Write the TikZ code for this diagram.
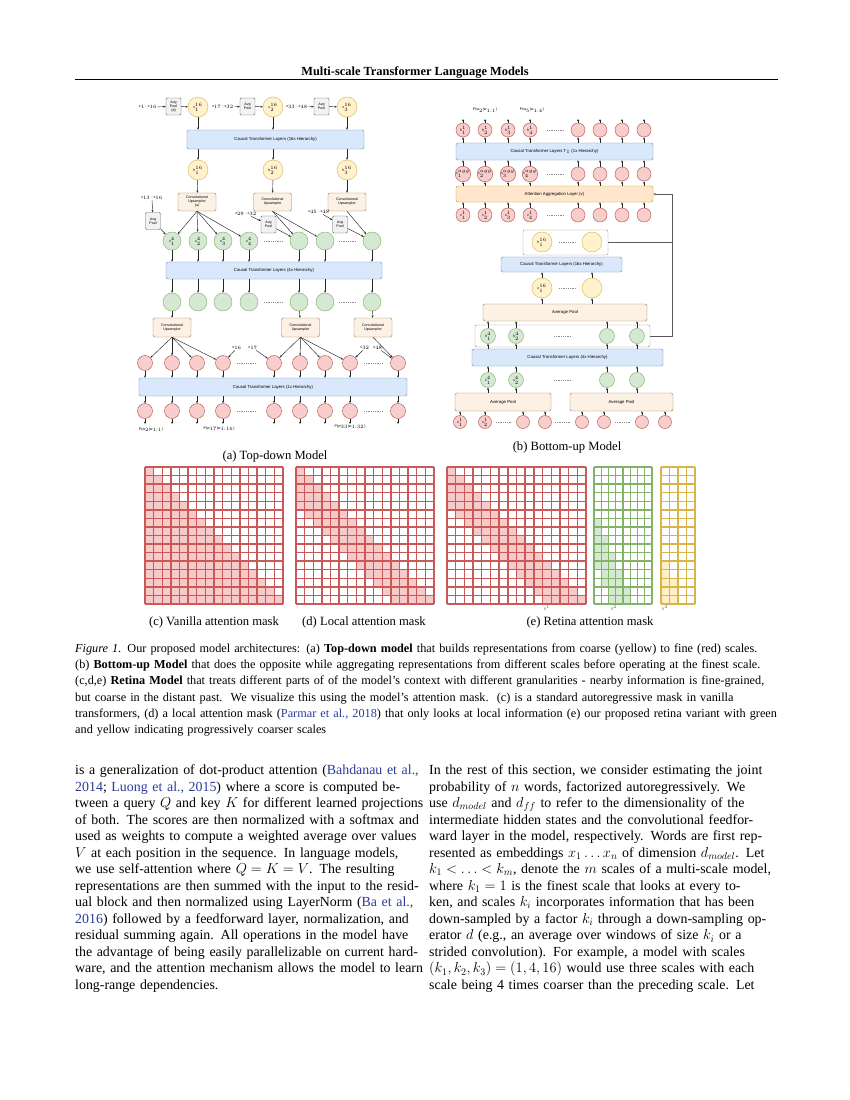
\documentclass[tikz,border=0pt]{standalone}
\usepackage{fontspec}
\setmainfont{Liberation Serif}
\setsansfont{Liberation Sans}
\usetikzlibrary{arrows.meta,calc}
\definecolor{citeblue}{HTML}{2A3C9A}
\definecolor{rstroke}{HTML}{B85450}
\definecolor{rfill}{HTML}{F8CECC}
\definecolor{gstroke}{HTML}{82B366}
\definecolor{gfill}{HTML}{D5E8D4}
\definecolor{ystroke}{HTML}{D6B656}
\definecolor{yfill}{HTML}{FFF2CC}
\definecolor{bstroke}{HTML}{6C8EBF}
\definecolor{bfill}{HTML}{DAE8FC}
\definecolor{ostroke}{HTML}{D79B00}
\definecolor{ofill}{HTML}{FFE6CC}
\definecolor{cstroke}{HTML}{9C7A5C}
\definecolor{cfill}{HTML}{FDF1E5}
\definecolor{mred}{HTML}{C95A5A}
\definecolor{mredf}{HTML}{F7C9C9}
\definecolor{mgreen}{HTML}{82B366}
\definecolor{mgreenf}{HTML}{D5E8D4}
\definecolor{myel}{HTML}{D9B44A}
\definecolor{myelf}{HTML}{FFF0C4}
\newcommand\cit[1]{\textcolor{citeblue}{#1}}
\newcommand\jl[1]{\hbox to\hsize{#1}}
\newcommand\lastl[1]{\hbox to\hsize{#1\hfil}}
\newcommand\rigidmath{\thickmuskip=5mu\medmuskip=4mu\thinmuskip=3mu}
\newcommand\bodyf{\fontsize{13.9}{16.54}\selectfont\rigidmath}
\newcommand\capf{\fontsize{12.25}{16.2}\selectfont}
\newcommand\subf{\fontsize{12.6}{15}\selectfont}
\newcommand\boxf{\sffamily\fontsize{4.3}{5}\selectfont}
\newcommand\labf{\sffamily\fontsize{3.6}{4}\selectfont}
\newcommand\labs{\sffamily\fontsize{3}{3.5}\selectfont}
\newcommand\gridlines[7]{%
  \foreach \k in {0,...,#3}{\draw[#7] (#1+\k*#5,#2) -- ++(0,#4*#6);}
  \foreach \k in {0,...,#4}{\draw[#7] (#1,#2+\k*#6) -- ++(#3*#5,0);}
}
\tikzset{
  arr/.style={-{Stealth[length=2.4pt,width=2pt]}, line width=0.45pt, draw=black!85},
  ln/.style={line width=0.5pt, draw=black!65},
  rc/.style={circle, draw=rstroke, fill=rfill, line width=0.45pt, minimum size=15pt, inner sep=0pt, font=\labf},
  gc/.style={circle, draw=gstroke, fill=gfill, line width=0.45pt, minimum size=18pt, inner sep=0pt, font=\labf},
  yc/.style={circle, draw=ystroke, fill=yfill, line width=0.45pt, minimum size=20pt, inner sep=0pt, font=\labf},
  bbox/.style={rectangle, rounded corners=1.5pt, draw=bstroke, fill=bfill, line width=0.45pt, inner sep=0pt, font=\boxf},
  obox/.style={rectangle, rounded corners=1.5pt, draw=ostroke, fill=ofill, line width=0.45pt, inner sep=0pt, font=\boxf},
  cbox/.style={rectangle, rounded corners=1.5pt, draw=cstroke, fill=cfill, line width=0.45pt, inner sep=0pt, align=center, font=\labf, minimum width=38pt, minimum height=18pt},
  pbox/.style={rectangle, rounded corners=1.2pt, draw=black!60, fill=black!5, line width=0.45pt, inner sep=0pt, align=center, font=\labf, minimum width=15pt, minimum height=17pt},
  dbox/.style={rectangle, rounded corners=2pt, draw=black!60, dash pattern=on 1.2pt off 0.8pt, line width=0.45pt, inner sep=0pt},
  inlab/.style={inner sep=0.5pt, font=\labf},
  dl/.style={draw=black!45, line width=0.4pt, dash pattern=on 1pt off 0.8pt},
  rg/.style={draw=mred, line width=1.4pt},
  gg/.style={draw=mgreen, line width=1.4pt},
  ygs/.style={draw=myel, line width=1.4pt},
  txt/.style={inner sep=0pt, anchor=base},
}
\begin{document}
\begin{tikzpicture}[x=1pt,y=-1pt]
\useasboundingbox (0,0) rectangle (850,1100);
\fill[white] (0,0) rectangle (850,1100);

% ---------- header ----------
\node[txt, font=\fontsize{12.4}{15}\selectfont\bfseries] (hdr) at (415,75) {Multi-scale Transformer Language Models};
\draw[line width=1pt] (75,79.5) -- (778,79.5);

% ========== (a) Top-down model ==========
\node[inlab] (t1) at (148,107) {x$_1$ - x$_{16}$};
\node[pbox] (p1) at (173.5,106.5) {Avg\\Pool\\(d)};
\node[yc] (y1) at (198,107) {x$_1^{16}$};
\node[inlab] (t2) at (223,107) {x$_{17}$ - x$_{32}$};
\node[pbox] (p2) at (247.5,106.5) {Avg\\Pool};
\node[yc] (y2) at (273,107) {x$_2^{16}$};
\node[inlab] (t3) at (297,107) {x$_{33}$ - x$_{48}$};
\node[pbox] (p3) at (321.5,106.5) {Avg\\Pool};
\node[yc] (y3) at (347,107) {x$_3^{16}$};
\foreach \n in {1,2,3}{\draw[arr] (t\n) -- (p\n); \draw[arr] (p\n) -- (y\n);}

\node[bbox, minimum width=177pt, minimum height=19pt] (T16) at (275.5,139.5) {Causal Transformer Layers (16x Hierarchy)};
\foreach \n in {1,2,3}{\draw[arr] (y\n) -- (y\n |- T16.north);}

\foreach \n/\x in {1/198,2/273,3/347}{\node[yc] (h\n) at (\x,170) {h$_\n^{16}$};}
\foreach \n in {1,2,3}{\draw[arr] (h\n |- T16.south) -- (h\n);}

\node[cbox] (c1) at (197,202) {Convolutional\\Upsampler\\(u)};
\node[cbox] (c2) at (272.5,202) {Convolutional\\Upsampler};
\node[cbox] (c3) at (347,202) {Convolutional\\Upsampler};
\foreach \n in {1,2,3}{\draw[arr] (h\n) -- (c\n);}

\node[inlab] (ta) at (152,198) {x$_{13}$ - x$_{16}$};
\node[pbox] (pa) at (153,221) {Avg\\Pool};
\draw[arr] (ta) -- (pa);
\node[inlab] (tb) at (246,214) {x$_{29}$ - x$_{32}$};
\node[pbox] (pb) at (268.5,224.5) {Avg\\Pool};
\draw[arr] (tb) -- (pb);
\node[inlab] (tc) at (319,212) {x$_{45}$ - x$_{48}$};
\node[pbox] (pc) at (340,224.5) {Avg\\Pool};
\draw[arr] (tc) -- (pc);

\foreach \n/\x/\t in {1/172/x$_1^4$,2/198/x$_2^4$,3/223/x$_3^4$,4/249/x$_4^4$,5/299/{},6/325/{},7/372/{}}{\node[gc] (g\n) at (\x,241) {\t};}
\draw[dl] (264,241) -- (283,241);
\draw[dl] (339,241) -- (357,241);
\foreach \n in {1,2,3,4}{\draw[arr] (c1.south) -- (g\n);}
\draw[arr] (pa) -- (g1);
\foreach \n in {5,6}{\draw[arr] (c2.south) -- (g\n);}
\draw[arr] (pb) -- (g5);
\draw[arr] (c3.south) -- (g7);
\draw[arr] (pc) -- (g7);

\node[bbox, minimum width=216pt, minimum height=17pt] (T4) at (274,270.5) {Causal Transformer Layers (4x Hierarchy)};
\foreach \n in {1,...,7}{\draw[arr] (g\n) -- (g\n |- T4.north);}

\foreach \n/\x in {1/172,2/198,3/223,4/249,5/299,6/325,7/372}{\node[gc] (gg\n) at (\x,302) {};}
\draw[dl] (264,302) -- (283,302);
\draw[dl] (339,302) -- (357,302);
\foreach \n in {1,...,7}{\draw[arr] (gg\n |- T4.south) -- (gg\n);}

\node[cbox, minimum height=19pt] (d1) at (172,327.5) {Convolutional\\Upsampler};
\node[cbox, minimum height=19pt] (d2) at (300.5,327.5) {Convolutional\\Upsampler};
\node[cbox, minimum height=19pt] (d3) at (373,327.5) {Convolutional\\Upsampler};
\draw[arr] (gg1) -- (d1);
\draw[arr] (gg5) -- (d2);
\draw[arr] (gg7) -- (d3);

\foreach \n/\x in {1/145,2/172,3/197,4/223,5/274,6/300,7/325,8/350,9/398}{\node[rc] (r\n) at (\x,363) {};}
\draw[dl] (237,363) -- (256,363);
\draw[dl] (364,363) -- (383,363);
\foreach \n in {1,2,3,4}{\draw[arr] (d1.south) -- (r\n);}
\foreach \n in {5,6,7,8}{\draw[arr] (d2.south) -- (r\n);}
\draw[arr] (d3.south) -- (r9);
\node[inlab] (l16) at (237,348) {x$_{16}$};
\node[inlab] (l17) at (253,348) {x$_{17}$};
\node[inlab] (l32) at (365,348) {x$_{32}$};
\node[inlab] (l48) at (378,348) {x$_{48}$};
\draw[arr] (l16) -- (r4);
\draw[arr] (l17) -- (r5);
\draw[arr] (l32) -- (r8);
\draw[arr] (l48) -- (r9);

\node[bbox, minimum width=268pt, minimum height=18pt] (T1) at (273,387) {Causal Transformer Layers (1x Hierarchy)};
\foreach \n in {1,...,9}{\draw[arr] (r\n) -- (r\n |- T1.north);}
\foreach \n/\x in {1/145,2/172,3/197,4/223,5/274,6/300,7/325,8/350,9/398}{
  \node[rc] (o\n) at (\x,411) {};
  \coordinate (oe\n) at (\x,424);
}
\draw[dl] (237,411) -- (256,411);
\draw[dl] (364,411) -- (383,411);
\foreach \n in {1,...,9}{\draw[arr] (o\n |- T1.south) -- (o\n); \draw[arr] (o\n) -- (oe\n);}
\node[inlab] (pl1) at (151,429.5) {P(w$_2$|w$_{1:1}$)};
\node[inlab] (pl2) at (219,428.5) {P(w$_{17}$|w$_{1:16}$)};
\node[inlab] (pl3) at (350,426.5) {P(w$_{33}$|w$_{1:32}$)};

\node[txt, font=\subf] (capa) at (275,459.5) {(a) Top-down Model};

% ========== (b) Bottom-up model ==========
\node[inlab] (pb1) at (485,110) {P(w$_2$|w$_{1:1}$)};
\node[inlab] (pb2) at (532,110) {P(w$_5$|w$_{1:4}$)};
\foreach \n/\x/\t in {1/463/h$_1^1$,2/485/h$_2^1$,3/508/h$_3^1$,4/530/h$_4^1$,5/578/{},6/600/{},7/622/{},8/644/{}}{
  \node[rc, minimum size=14pt] (a\n) at (\x,130) {\t};
  \coordinate (ae\n) at (\x,119);
}
\draw[dl] (547,130) -- (564,130);
\foreach \n in {1,...,8}{\draw[arr] (a\n) -- (ae\n);}
\node[bbox, minimum width=197pt, minimum height=17pt] (TT1) at (554.5,151.5) {Causal Transformer Layers T$_1$ (1x Hierarchy)};
\foreach \n in {1,...,8}{\draw[arr] (a\n |- TT1.north) -- (a\n);}
\foreach \n/\x/\t in {1/463/h$_1^{agg}$,2/485/h$_2^{agg}$,3/508/h$_3^{agg}$,4/530/h$_4^{agg}$,5/578/{},6/600/{},7/622/{},8/644/{}}{
  \node[rc, minimum size=14pt, font=\labs] (b\n) at (\x,174) {\t};
}
\draw[dl] (547,174) -- (564,174);
\foreach \n in {1,...,8}{\draw[arr] (b\n) -- (b\n |- TT1.south);}
\node[obox, minimum width=197pt, minimum height=16pt] (Att) at (554.5,194) {Attention Aggregation Layer (v)};
\foreach \n in {1,...,8}{\draw[arr] (b\n |- Att.north) -- (b\n);}
\foreach \n/\x/\t in {1/463/x$_1^1$,2/485/x$_2^1$,3/508/x$_3^1$,4/530/x$_4^1$,5/578/{},6/600/{},7/622/{},8/644/{}}{
  \node[rc, minimum size=14pt] (e\n) at (\x,215) {\t};
}
\draw[dl] (547,215) -- (564,215);
\foreach \n in {1,...,8}{\draw[arr] (e\n) -- (e\n |- Att.south);}

\node[dbox, minimum width=85pt, minimum height=25pt] (D16) at (565.5,242.5) {};
\node[yc] (yb1) at (542,242) {h$_1^{16}$};
\node[yc] (yb2) at (592,242) {};
\draw[dl] (559,242) -- (576,242);
\node[bbox, minimum width=121pt, minimum height=15pt] (T16b) at (561.5,264.5) {Causal Transformer Layers (16x Hierarchy)};
\node[yc] (yc1) at (542,288) {x$_1^{16}$};
\node[yc] (yc2) at (592,288) {};
\draw[dl] (559,288) -- (576,288);
\foreach \n in {1,2}{\draw[arr] (yc\n) -- (yc\n |- T16b.south);}
\node[cbox, font=\boxf, minimum width=164pt, minimum height=17pt] (AP) at (565,312.5) {Average Pool};
\foreach \n in {1,2}{\draw[arr] (yc\n |- AP.north) -- (yc\n);}

\node[dbox, minimum width=175pt, minimum height=22pt] (GD) at (562.5,336) {};
\foreach \n/\x/\t in {1/488/h$_1^4$,2/516/h$_2^4$,3/607/{},4/637/{}}{\node[gc, minimum size=15pt] (gd\n) at (\x,336) {\t};}
\draw[dl] (554,336) -- (572,336);
\foreach \n in {1,...,4}{\draw[arr] (gd\n) -- (gd\n |- AP.south);}
\node[bbox, minimum width=191pt, minimum height=17pt] (T4b) at (567.5,357.5) {Causal Transformer Layers (4x Hierarchy)};
\foreach \n in {1,...,4}{\draw[arr] (gd\n |- T4b.north) -- (gd\n);}
\foreach \n/\x/\t in {1/488/x$_1^4$,2/516/x$_2^4$,3/607/{},4/637/{}}{\node[gc, minimum size=15pt] (ge\n) at (\x,380) {\t};}
\draw[dl] (554,380) -- (572,380);
\foreach \n in {1,...,4}{\draw[arr] (ge\n) -- (ge\n |- T4b.south);}
\node[cbox, font=\boxf, minimum width=96pt, minimum height=18pt] (pp1) at (503,402) {Average Pool};
\node[cbox, font=\boxf, minimum width=103pt, minimum height=18pt] (pp2) at (621.5,402) {Average Pool};
\draw[arr] (ge1 |- pp1.north) -- (ge1);
\draw[arr] (ge2 |- pp1.north) -- (ge2);
\draw[arr] (ge3 |- pp2.north) -- (ge3);
\draw[arr] (ge4 |- pp2.north) -- (ge4);
\foreach \n/\x/\t in {1/460/x$_1^1$,2/485/x$_2^1$,3/523/{},4/545/{},5/582/{},6/604/{},7/642/{},8/665/{}}{\node[rc, minimum size=13pt] (rb\n) at (\x,422) {\t};}
\draw[dl] (496,422) -- (511,422);
\draw[dl] (555,422) -- (570,422);
\draw[dl] (615,422) -- (630,422);
\foreach \n in {1,2,3,4}{\draw[arr] (rb\n) -- (rb\n |- pp1.south);}
\foreach \n in {5,6,7,8}{\draw[arr] (rb\n) -- (rb\n |- pp2.south);}

\coordinate (fb1) at (672,242.5);
\coordinate (fb2) at (672,336);
\coordinate (fb3) at (672,194);
\draw[ln] (D16.east) -- (fb1);
\draw[arr, draw=black!65] (GD.east) -- (fb2) -- (fb3) -- (Att.east);

\node[txt, font=\subf] (capb) at (567,450.5) {(b) Bottom-up Model};

% ========== masks ==========
% vanilla
\foreach \i in {0,...,15}{\foreach \j in {0,...,\i}{\fill[mredf] (145+\j*8.625,467+\i*8.5625) rectangle ++(8.625,8.5625);}}
\gridlines{145}{467}{16}{16}{8.625}{8.5625}{rg}
% local
\foreach \i in {0,...,15}{
  \pgfmathtruncatemacro\lo{max(0,\i-4)}
  \foreach \j in {\lo,...,\i}{\fill[mredf] (296+\j*8.625,467+\i*8.5625) rectangle ++(8.625,8.5625);}
}
\gridlines{296}{467}{16}{16}{8.625}{8.5625}{rg}
% retina s1
\foreach \i in {0,...,15}{
  \pgfmathtruncatemacro\lo{max(0,\i-4)}
  \foreach \j in {\lo,...,\i}{\fill[mredf] (447+\j*8.6875,467+\i*8.5625) rectangle ++(8.6875,8.5625);}
}
\gridlines{447}{467}{16}{16}{8.6875}{8.5625}{rg}
% retina s2
\foreach \r/\a/\b in {6/0/0,7/0/0,8/0/1,9/0/1,10/0/2,11/0/2,12/1/3,13/1/3,14/2/4,15/2/4}{
  \foreach \j in {\a,...,\b}{\fill[mgreenf] (594+\j*7.25,467+\r*8.5625) rectangle ++(7.25,8.5625);}
}
\gridlines{594}{467}{8}{16}{7.25}{8.5625}{gg}
% retina s4
\foreach \r/\a/\b in {11/0/0,12/0/0,13/0/1,14/0/1,15/0/1}{
  \foreach \j in {\a,...,\b}{\fill[myelf] (661+\j*8.5,467+\r*8.5625) rectangle ++(8.5,8.5625);}
}
\gridlines{661}{467}{4}{16}{8.5}{8.5625}{ygs}
\node[font=\sffamily\fontsize{4.5}{5}\selectfont, text=black!60, inner sep=0pt] (s1) at (547,608) {s$^1$};
\node[font=\sffamily\fontsize{4.5}{5}\selectfont, text=black!60, inner sep=0pt] (s2) at (614,608) {s$^2$};
\node[font=\sffamily\fontsize{4.5}{5}\selectfont, text=black!60, inner sep=0pt] (s4) at (665,608) {s$^4$};

\node[txt, font=\subf] (capc) at (214,625.5) {(c) Vanilla attention mask};
\node[txt, font=\subf] (capd) at (364,625.5) {(d) Local attention mask};
\node[txt, font=\subf] (cape) at (590,625.5) {(e) Retina attention mask};

% ========== figure caption ==========
\node[anchor=base west, inner sep=0pt, text width=703pt, font=\capf] (cap) at (75,652.5) {%
\jl{\textit{Figure 1.} Our proposed model architectures: (a) \textbf{Top-down model} that builds representations from coarse (yellow) to fine (red) scales.}
\jl{(b) \textbf{Bottom-up Model} that does the opposite while aggregating representations from different scales before operating at the finest scale.}
\jl{(c,d,e) \textbf{Retina Model} that treats different parts of of the model's context with different granularities - nearby information is fine-grained,}
\jl{but coarse in the distant past.\ \ We visualize this using the model's attention mask.\ \ (c) is a standard autoregressive mask in vanilla}
\jl{transformers, (d) a local attention mask (\cit{Parmar et al., 2018}) that only looks at local information (e) our proposed retina variant with green}
\lastl{and yellow indicating progressively coarser scales}};

% ========== body text ==========
\node[anchor=base west, inner sep=0pt, text width=344pt, font=\bodyf] (lcol) at (75,774.5) {%
\jl{is a generalization of dot-product attention (\cit{Bahdanau et al.,}}
\jl{\cit{2014}; \cit{Luong et al., 2015}) where a score is computed be-}
\jl{tween a query $Q$ and key $K$ for different learned projections}
\jl{of both. The scores are then normalized with a softmax and}
\jl{used as weights to compute a weighted average over values}
\jl{$V$ at each position in the sequence. In language models,}
\jl{we use self-attention where $Q=K=V$. The resulting}
\jl{representations are then summed with the input to the resid-}
\jl{ual block and then normalized using LayerNorm (\cit{Ba et al.,}}
\jl{\cit{2016}) followed by a feedforward layer, normalization, and}
\jl{residual summing again. All operations in the model have}
\jl{the advantage of being easily parallelizable on current hard-}
\jl{ware, and the attention mechanism allows the model to learn}
\lastl{long-range dependencies.}};

\node[anchor=base west, inner sep=0pt, text width=349pt, font=\bodyf] (rcol) at (429,774.5) {%
\jl{In the rest of this section, we consider estimating the joint}
\jl{probability of $n$ words, factorized autoregressively. We}
\jl{use $d_{model}$ and $d_{ff}$ to refer to the dimensionality of the}
\jl{intermediate hidden states and the convolutional feedfor-}
\jl{ward layer in the model, respectively. Words are first rep-}
\jl{resented as embeddings $x_1\ldots x_n$ of dimension $d_{model}$. Let}
\jl{$k_1<\ldots<k_m$, denote the $m$ scales of a multi-scale model,}
\jl{where $k_1=1$ is the finest scale that looks at every to-}
\jl{ken, and scales $k_i$ incorporates information that has been}
\jl{down-sampled by a factor $k_i$ through a down-sampling op-}
\jl{erator $d$ (e.g., an average over windows of size $k_i$ or a}
\jl{strided convolution). For example, a model with scales}
\jl{$(k_1,k_2,k_3)=(1,4,16)$ would use three scales with each}
\jl{scale being 4 times coarser than the preceding scale. Let}};

\end{tikzpicture}
\end{document}
